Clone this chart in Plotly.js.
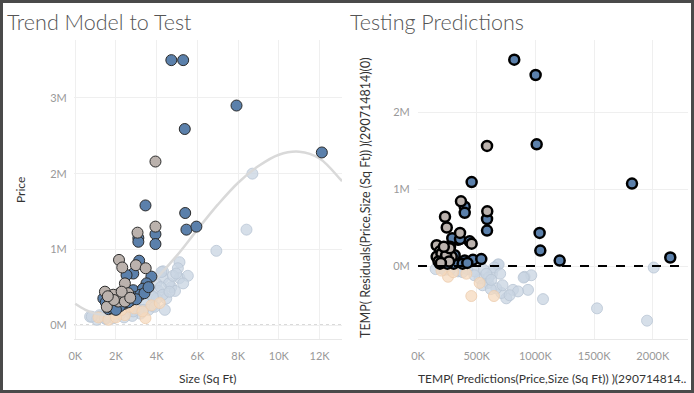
<!DOCTYPE html>
<html>
<head>
<meta charset="utf-8">
<script src="https://cdn.plot.ly/plotly-3.0.1.min.js"></script>
<style>html,body{margin:0;padding:0;background:#fff;}#chart{width:694px;height:393px;}</style>
</head>
<body>
<div id="chart"></div>
<script>
// ---- Left panel: Size (K sq ft) vs Price (M) ----
const trainBlueSize  = [4.72,5.30,7.92,5.38,12.11,3.45,5.40,5.46,5.95,3.10,3.10,3.94,3.94,3.14,2.85,2.52,3.74,3.50,3.17,2.85,1.38,1.63,1.95,2.76,2.40,3.00,3.33,1.50,2.10,2.60,3.20,1.80,2.20,2.60,3.00,3.40,3.60,2.00];
const trainBluePrice = [3.50,3.50,2.90,2.59,2.28,1.58,1.48,1.26,1.30,1.15,1.10,1.20,1.07,0.85,0.68,0.66,0.64,0.55,0.44,0.46,0.35,0.21,0.26,0.33,0.28,0.37,0.48,0.30,0.24,0.36,0.40,0.22,0.25,0.30,0.34,0.42,0.50,0.20];
const trainGraySize  = [3.94,3.06,3.94,2.15,2.31,2.98,3.46,2.44,2.60,2.20,1.46,1.87,1.71,2.11,2.44,1.55,2.28,1.90,2.70,1.60];
const trainGrayPrice = [2.16,1.22,1.30,0.86,0.76,0.79,0.75,0.55,0.42,0.42,0.44,0.40,0.33,0.31,0.31,0.24,0.44,0.33,0.36,0.38];
const otherBlueSize  = [8.70,8.41,6.93,5.12,5.04,5.12,5.53,4.31,4.31,4.72,3.98,4.47,4.10,3.70,3.40,3.00,2.60,2.20,1.87,1.50,1.20,0.73,1.06,4.90,4.60,3.80,4.40,5.30,3.20,2.80,4.20,4.00,3.60,1.40,2.40,4.80,4.30,4.23,4.96,4.63,3.82,3.90,3.33,2.85,1.22,0.81,1.46];
const otherBluePrice = [2.00,1.26,0.98,0.83,0.75,0.62,0.65,0.71,0.62,0.50,0.55,0.35,0.45,0.40,0.30,0.22,0.18,0.14,0.09,0.08,0.13,0.11,0.07,0.45,0.55,0.25,0.20,0.55,0.15,0.12,0.50,0.35,0.20,0.12,0.10,0.65,0.40,0.70,0.68,0.44,0.37,0.24,0.20,0.18,0.11,0.11,0.09];
const otherOrangeSize  = [3.45,1.14,1.63,2.44,2.28,1.95,2.68,2.90,3.74,4.15,3.30,2.00];
const otherOrangePrice = [0.09,0.10,0.07,0.13,0.20,0.15,0.24,0.22,0.26,0.29,0.18,0.10];
const trendSize  = [0,0.5,1,1.5,2,3,4,5,6,7,8,9,10,11,12,13,13.1];
const trendPrice = [0.28,0.20,0.15,0.14,0.18,0.35,0.62,0.92,1.26,1.59,1.88,2.10,2.25,2.29,2.20,1.93,1.90];
const leftXTicks = [0,2,4,6,8,10,12];
const leftXText  = ["0K","2K","4K","6K","8K","10K","12K"];
const leftYTicks = [0,1,2,3];
const leftYText  = ["0M","1M","2M","3M"];

// ---- Right panel: Prediction (K) vs Residual (M) ----
const testBluePred  = [820,1002,1011,457,1823,398,398,588,588,1036,1042,1207,2149,341,440,292,341,398,468,539,312,187,304,250,380,420,358,273];
const testBlueResid = [2.68,2.48,1.58,1.09,1.07,0.77,0.69,0.61,0.46,0.43,0.20,0.07,0.11,0.34,0.32,0.36,0.06,0.07,0.08,0.09,0.14,0.03,0.03,0.03,0.03,0.04,0.35,0.25];
const testGrayPred  = [588,366,590,230,245,358,457,159,187,258,216,287,159,200,240,175,270,220,265,195];
const testGrayResid = [1.56,0.84,0.71,0.64,0.50,0.43,0.29,0.27,0.19,0.21,0.10,0.12,0.12,0.16,0.14,0.06,0.23,0.25,0.06,0.04];
const testOtherBluePred  = [681,687,908,965,937,809,852,752,1065,710,667,596,525,483,341,199,2008,1525,1951,900,630,560,420,270,150,720,780,600,650,480,700,380,550,620,227,582,624];
const testOtherBlueResid = [0.02,0.02,-0.14,-0.12,-0.31,-0.31,-0.33,-0.42,-0.43,-0.35,-0.29,-0.22,-0.16,-0.07,-0.07,-0.03,-0.02,-0.55,-0.71,-0.15,-0.10,-0.05,-0.04,-0.05,-0.04,-0.25,-0.38,-0.15,-0.02,-0.12,-0.10,-0.08,-0.25,-0.30,-0.05,-0.10,-0.18];
const testOtherOrangePred  = [454,647,256,525,412,300,200];
const testOtherOrangeResid = [-0.39,-0.39,-0.14,-0.22,-0.10,-0.08,-0.06];
const rightXTicks = [0,500,1000,1500,2000];
const rightXText  = ["0K","500K","1000K","1500K","2000K"];
const rightYTicks = [0,1,2];
const rightYText  = ["0M","1M","2M"];

const BLUE = "#5b80ab", GRAY = "#bbb2ad";
const FADE_BLUE = "rgba(200,212,225,0.75)", FADE_BLUE_LINE = "rgba(185,198,212,0.8)";
const FADE_OR = "rgba(246,218,190,0.75)", FADE_OR_LINE = "rgba(236,205,175,0.8)";

function pts(x, y, xa, ya, fill, lc, lw, size) {
  return {type:"scatter", mode:"markers", x:x, y:y, xaxis:xa, yaxis:ya, hoverinfo:"skip",
    marker:{color:fill, size:size, line:{color:lc, width:lw}}};
}

const data = [
  pts(otherBlueSize, otherBluePrice, "x", "y", FADE_BLUE, FADE_BLUE_LINE, 1, 11),
  pts(otherOrangeSize, otherOrangePrice, "x", "y", FADE_OR, FADE_OR_LINE, 1, 11),
  {type:"scatter", mode:"lines", x:trendSize, y:trendPrice, xaxis:"x", yaxis:"y", hoverinfo:"skip",
    line:{color:"#d9d9d9", width:2.5, shape:"spline"}},
  pts(trainBlueSize, trainBluePrice, "x", "y", BLUE, "#2b2b2b", 1, 11),
  pts(trainGraySize, trainGrayPrice, "x", "y", GRAY, "#2b2b2b", 1, 11),
  pts(testOtherBluePred, testOtherBlueResid, "x2", "y2", FADE_BLUE, FADE_BLUE_LINE, 1, 11),
  pts(testOtherOrangePred, testOtherOrangeResid, "x2", "y2", FADE_OR, FADE_OR_LINE, 1, 11),
  pts(testBluePred, testBlueResid, "x2", "y2", BLUE, "#000", 2.5, 10),
  pts(testGrayPred, testGrayResid, "x2", "y2", GRAY, "#000", 2.5, 10)
];

const W = 694, H = 393;
const px = v => v / W, py = v => 1 - v / H;
const tickFont = {family:"Lato, 'Open Sans', sans-serif", size:11, color:"#999"};
const axisCommon = {showgrid:true, gridcolor:"#efefef", gridwidth:1, zeroline:false,
  ticks:"outside", tickcolor:"rgba(0,0,0,0)", tickfont:tickFont, fixedrange:true};
const titleFont = {family:"Lato, 'Open Sans', sans-serif", size:21.5, color:"#555", weight:300};

const layout = {
  width:W, height:H, margin:{l:0,r:0,t:0,b:0},
  paper_bgcolor:"#fff", plot_bgcolor:"#fff", showlegend:false,
  font:{family:"Lato, 'Open Sans', sans-serif"},
  xaxis:Object.assign({}, axisCommon, {domain:[px(74), px(342)], range:[-0.06, 13.1], anchor:"y",
    tickmode:"array", tickvals:leftXTicks, ticktext:leftXText, ticklen:7,
    showline:true, linecolor:"#e8e8e8", linewidth:1}),
  yaxis:Object.assign({}, axisCommon, {domain:[py(339), py(40)], range:[-0.185, 3.766], anchor:"x",
    tickmode:"array", tickvals:leftYTicks, ticktext:leftYText, ticklen:4}),
  xaxis2:Object.assign({}, axisCommon, {domain:[px(418), px(688)], range:[0, 2300], anchor:"y2",
    tickmode:"array", tickvals:rightXTicks, ticktext:rightXText, ticklen:7,
    showline:true, linecolor:"#e8e8e8", linewidth:1}),
  yaxis2:Object.assign({}, axisCommon, {domain:[py(339), py(40)], range:[-0.948, 2.935], anchor:"x2",
    tickmode:"array", tickvals:rightYTicks, ticktext:rightYText, ticklen:5}),
  shapes:[
    {type:"line", xref:"x domain", yref:"y", x0:0, x1:1, y0:0, y1:0, layer:"below",
      line:{color:"#b5b5b5", width:1, dash:"dot"}},
    {type:"line", xref:"x2 domain", yref:"y2", x0:0, x1:1, y0:0, y1:0, layer:"above",
      line:{color:"#000", width:2, dash:"dash"}},
    {type:"rect", xref:"paper", yref:"paper", x0:0, x1:1, y0:0, y1:1,
      line:{color:"#4a4a4a", width:6}}
  ],
  annotations:[
    {text:"Trend Model to Test", xref:"paper", yref:"paper", x:px(5), y:py(22), xanchor:"left", yanchor:"middle",
      showarrow:false, font:titleFont},
    {text:"Testing Predictions", xref:"paper", yref:"paper", x:px(348), y:py(22), xanchor:"left", yanchor:"middle",
      showarrow:false, font:titleFont},
    {text:"Size (Sq Ft)", xref:"paper", yref:"paper", x:px(208), y:py(378), xanchor:"center", yanchor:"middle",
      showarrow:false, font:{size:12, color:"#333"}},
    {text:"Price", xref:"paper", yref:"paper", x:px(20), y:py(190), xanchor:"center", yanchor:"middle",
      textangle:-90, showarrow:false, font:{size:12, color:"#333"}},
    {text:"TEMP( Residuals(Price,Size (Sq Ft)) )(290714814)(0)", xref:"paper", yref:"paper", x:px(366), y:py(198),
      xanchor:"center", yanchor:"middle", textangle:-90, showarrow:false, font:{size:12.5, color:"#333"}},
    {text:"TEMP( Predictions(Price,Size (Sq Ft)) )(290714814..", xref:"paper", yref:"paper", x:px(552), y:py(378),
      xanchor:"center", yanchor:"middle", showarrow:false, font:{size:12, color:"#333"}}
  ]
};

Plotly.newPlot("chart", data, layout, {displayModeBar:false, staticPlot:true});
</script>
</body>
</html>
